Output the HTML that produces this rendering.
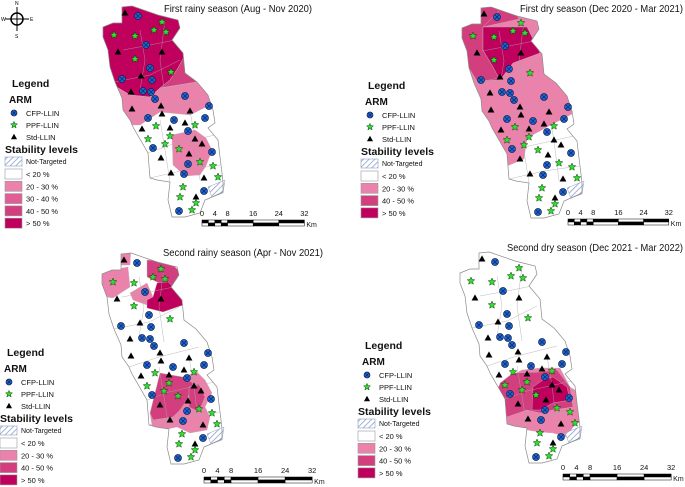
<!DOCTYPE html>
<html><head><meta charset="utf-8">
<style>
html,body{margin:0;padding:0;background:#fff;}
svg{display:block;font-family:"Liberation Sans",Arial,sans-serif;}
</style></head>
<body>
<svg id="fig" width="685" height="487" viewBox="0 0 685 487" xmlns="http://www.w3.org/2000/svg">
<defs>
<pattern id="hatch" width="4" height="4" patternUnits="userSpaceOnUse" patternTransform="rotate(45)">
<rect width="4" height="4" fill="#fff"/><line x1="0" y1="0" x2="0" y2="4" stroke="#8da0c8" stroke-width="1.6"/>
</pattern>
</defs>
<g font-size="5" fill="#000">
<text x="15" y="5">N</text><text x="1" y="21">W</text><text x="30" y="21">E</text><text x="15" y="38">S</text>
<circle cx="17" cy="19" r="6" fill="none" stroke="#000" stroke-width="1.5"/>
<line x1="17" y1="7" x2="17" y2="31" stroke="#000" stroke-width="1"/><line x1="5" y1="19" x2="29" y2="19" stroke="#000" stroke-width="1"/>
</g>
</svg>
<script>
// ---- data ----
const panelTitles = ["First rainy season (Aug - Nov 2020)","First dry season (Dec 2020 - Mar 2021)","Second rainy season (Apr - Nov 2021)","Second dry season (Dec 2021 - Mar 2022)"];
const panelOffsets = [[0,0],[359,1],[-1,247],[357,246]];
const titlePos = [[164,12,148],[520,12,163],[163,256,160],[507,251,176]];
const scaleTicks = [0,4,8,16,24,32];
const scalePos = [[202,220,3.2],[568,219,3.15],[204,477,3.38],[563,474,3.38]];
const legendPos = [[0,0],[356,2],[-5,269],[353,262]];
const levelLabels1 = ["< 20 %","20 - 30 %","30 - 40 %","40 - 50 %","> 50 %"];
const levelLabels2 = ["< 20 %","20 - 30 %","40 - 50 %","> 50 %"];
const levelColors1 = ["#ffffff","#eb82ab","#e05d96","#d33f7e","#c0005d"];
const levelColors2 = ["#ffffff","#eb82ab","#d33f7e","#c0005d"];
const C = {p:"#eb82ab",m:"#e05d96",d:"#d33f7e",x:"#c0005d"};
const outline = [[122,7],[132,6],[158,15],[178,20],[180,28],[172,40],[183,53],[185,73],[197,82],[208,95],[213,110],[215,123],[208,128],[218,140],[220,157],[222,173],[223,182],[223,192],[212,197],[205,200],[200,213],[185,217],[172,217],[168,200],[170,182],[157,180],[150,178],[148,153],[133,127],[130,120],[123,110],[122,98],[115,82],[110,67],[108,50],[103,37],[103,27],[113,23],[122,23]];
const notTargeted = [[208,187],[225,180],[223,193],[212,197]];
const regions = [
 [[C.x,[[95,0],[230,0],[230,50],[185,55],[178,68],[170,80],[160,88],[150,97],[130,95],[115,86],[95,86]]],
  [C.d,[[170,80],[178,68],[185,55],[230,50],[230,86],[197,82],[160,88]]],
  [C.p,[[95,86],[115,86],[130,95],[150,97],[160,88],[197,82],[230,86],[230,104],[208,106],[190,115],[160,112],[140,125],[95,125]]],
  [C.p,[[172,135],[195,130],[206,138],[212,150],[206,166],[200,175],[185,176],[173,165]]]],
 [[C.p,[[95,0],[230,0],[230,108],[215,112],[188,126],[181,130],[168,137],[165,158],[148,165],[95,165]]],
  [C.d,[[95,0],[150,0],[150,15],[124,26],[124,49],[134,66],[141,79],[118,80],[110,67],[95,40]]],
  [C.d,[[150,0],[160,18],[124,26]]],
  [C.x,[[124,26],[168,26],[181,52],[154,62],[141,79],[134,66],[124,49]]]],
 [[C.p,[[115,0],[132,0],[131,18],[119,18]]],
  [C.p,[[95,26],[129,20],[131,40],[114,51],[95,48]]],
  [C.p,[[131,46],[148,36],[154,50],[148,58],[134,53]]],
  [C.d,[[148,13],[171,15],[181,25],[178,36],[169,40],[158,35],[148,30]]],
  [C.x,[[158,36],[169,35],[178,43],[190,56],[164,65],[148,61],[148,53],[154,50]]],
  [C.p,[[151,166],[154,185],[178,180],[191,186],[208,183],[211,170],[206,160],[213,146],[206,133],[198,125],[184,130]]],
  [C.d,[[161,126],[184,130],[194,136],[188,153],[181,163],[174,170],[154,173],[151,166]]],
  [C.d,[[190,140],[200,137],[206,150],[200,165],[190,160]]]],
 [[C.p,[[138,144],[151,131],[165,124],[183,122],[203,122],[213,141],[223,147],[228,171],[216,181],[210,191],[196,187],[183,186],[170,184],[151,186],[140,161]]],
  [C.d,[[143,137],[156,127],[183,126],[200,124],[213,141],[216,161],[196,164],[183,167],[170,164],[150,171],[140,147]]],
  [C.x,[[176,141],[186,134],[196,131],[210,141],[213,154],[196,157],[183,164],[175,164]]]]
];
const cfpX = [138,146,150,122,152,143,151,155,185,209,205,148,174,188,153,212,188,184,204,179];
const cfpY = [16,45,68,79,80,91,92,99,96,106,118,118,120,131,148,152,164,174,191,211];
const ppfX = [162,154,166,114,135,135,171,156,170,148,165,195,179,200,213,218,183,180,196,192];
const ppfY = [22,30,32,35,36,59,72,126,136,139,144,125,149,162,166,177,187,197,203,210];
const stdX = [125,162,118,141,131,132,161,162,142,170,190,185,161,171,195,202,189,204,196];
const stdY = [13,52,52,76,92,109,106,114,129,128,111,123,158,173,139,144,154,178,197];
const borderLines = [[[115,82],[150,75],[180,60]],[[123,50],[150,45],[175,40]],[[130,120],[160,110],[200,100]],[[148,153],[170,145],[215,135]],[[150,178],[185,170],[220,165]],[[140,30],[145,60],[140,90]],[[165,20],[160,60],[165,95]],[[160,120],[165,150],[170,182]],[[190,110],[195,140],[200,180]]];

// ---- drawing ----
const svg = document.getElementById('fig');
const NS = "http://www.w3.org/2000/svg";
function el(tag, attrs, parent){const e=document.createElementNS(NS,tag);for(const k in attrs)e.setAttribute(k,attrs[k]);(parent||svg).appendChild(e);return e;}
function pts(a){return a.map(p=>p.join(',')).join(' ');}
const kebab = ["first-rainy","first-dry","second-rainy","second-dry"];

function drawCircle(g,x,y,r){
  const c=el('g',{},g);
  
  
  el('circle',{cx:x,cy:y,r:r,fill:'#1c63d8',stroke:'#10244a','stroke-width':0.7},c);
  const d=r*0.6;
  el('path',{d:`M${x-d},${y-d}L${x+d},${y+d}M${x-d},${y+d}L${x+d},${y-d}`,stroke:'#0c1e44','stroke-width':0.6},c);
}
function drawStar(g,x,y,r){
  let p=[];for(let i=0;i<10;i++){const a=-Math.PI/2+i*Math.PI/5;const rr=i%2?r*0.45:r;p.push([x+rr*Math.cos(a),y+rr*Math.sin(a)]);}
  const s=el('polygon',{points:pts(p),fill:'#2fe02f',stroke:'#0a3a0a','stroke-width':0.5},g);
  
  
}
function drawTri(g,x,y,r){
  const t=el('polygon',{points:pts([[x,y-r],[x+r*0.95,y+r*0.7],[x-r*0.95,y+r*0.7]]),fill:'#000'},g);
  
  
}

for(let i=0;i<4;i++){
  const [dx,dy]=panelOffsets[i];
  const panel=el('g',{});
  
  
  const cp=el('clipPath',{id:'clip'+i},panel);
  el('polygon',{points:pts(outline),transform:`translate(${dx},${dy})`},cp);
  const map=el('g',{transform:`translate(${dx},${dy})`},panel);
  
  
  el('polygon',{points:pts(outline),fill:'#fff'},map);
  const rg=el('g',{'clip-path':`url(#clip${i})`,transform:`translate(${-dx},${-dy})`},map);
  const inner=el('g',{transform:`translate(${dx},${dy})`},rg);
  regions[i].forEach(r=>{
    const p=el('polygon',{points:pts(r[1]),fill:r[0],stroke:'#b9b9b9','stroke-width':0.4},inner);
    
    
  });
  borderLines.forEach(l=>{el('polyline',{points:pts(l),fill:'none',stroke:'#a8a8a8','stroke-width':0.4},inner);});
  const nt=el('polygon',{points:pts(notTargeted),fill:'url(#hatch)',stroke:'#8da0c8','stroke-width':0.5},map);
  
  
  el('polygon',{points:pts(outline),fill:'none',stroke:'#8a8a8a','stroke-width':0.7},map);
  for(let k=0;k<stdX.length;k++) drawTri(map,stdX[k],stdY[k],3.6);
  for(let k=0;k<cfpX.length;k++) drawCircle(map,cfpX[k],cfpY[k],3.5);
  for(let k=0;k<ppfX.length;k++) drawStar(map,ppfX[k],ppfY[k],4);

  // title
  const t=el('text',{x:titlePos[i][0],y:titlePos[i][1],'font-size':10.5,fill:'#111',textLength:titlePos[i][2],lengthAdjust:'spacingAndGlyphs'},panel);
  t.textContent=panelTitles[i];
  
  

  // scale bar
  const [sx,sy,u]=scalePos[i];
  const sb=el('g',{},panel);
  
  
  const segs=[0,2,4,6,8,16,24,32];
  for(let s=0;s<segs.length-1;s++){
    const x0=sx+segs[s]*u,w=(segs[s+1]-segs[s])*u;
    el('rect',{x:x0,y:sy,width:w,height:3,fill:s%2?'#fff':'#000',stroke:'#000','stroke-width':0.5},sb);
    el('rect',{x:x0,y:sy+3,width:w,height:3,fill:s%2?'#000':'#fff',stroke:'#000','stroke-width':0.5},sb);
  }
  scaleTicks.forEach(v=>{const tx=el('text',{x:sx+v*u,y:sy-4,'font-size':7.5,'text-anchor':'middle',fill:'#111'},sb);tx.textContent=v;});
  const km=el('text',{x:sx+32*u+2,y:sy+7,'font-size':7,fill:'#111'},sb);km.textContent='Km';

  // legend
  const [lx,ly]=legendPos[i];
  const lg=el('g',{transform:`translate(${lx},${ly})`},panel);
  
  
  const labels = i===0?levelLabels1:levelLabels2;
  const colors = i===0?levelColors1:levelColors2;
  function tx(x,y,s,str,b){const e=el('text',{x:x,y:y,'font-size':s,'font-weight':b?'bold':'normal',fill:'#111'},lg);e.textContent=str;return e;}
  tx(12,87,10.5,'Legend',true);
  tx(9,103,10,'ARM',true);
  drawCircle(lg,14,113,3);tx(26,116,7.5,'CFP-LLIN');
  drawStar(lg,14,125,3.6);tx(26,128,7.5,'PPF-LLIN');
  drawTri(lg,14,137,3.2);tx(26,140,7.5,'Std-LLIN');
  tx(5,153,10.5,'Stability levels',true);
  el('rect',{x:5,y:157,width:17,height:9,fill:'url(#hatch)',stroke:'#8da0c8','stroke-width':0.6},lg);
  tx(26,164,7,'Not-Targeted');
  labels.forEach((lab,k)=>{
    const y=169+k*12.3;
    const r=el('rect',{x:5,y:y,width:17,height:10,fill:colors[k],stroke:'#999','stroke-width':0.6},lg);
    
    
    tx(26,y+8,7.5,lab);
  });
}
</script>
</body></html>
